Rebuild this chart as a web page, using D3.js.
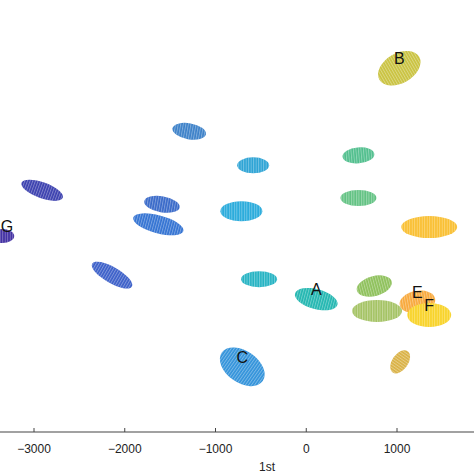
<!DOCTYPE html>
<html><head><meta charset="utf-8">
<script src="https://cdn.jsdelivr.net/npm/d3@7"></script>
<style>body{margin:0;background:#fff}text{font-family:"Liberation Sans",Arial,sans-serif}</style>
</head><body><svg id="c" width="474" height="474"></svg>
<script>
// groups: centre, radii (data units), tilt (deg), colour, label
var labels = ["B","","","","","","","","","","G","","","A","","","E","F","C",""];
var xs = [1025,-1290,-585,575,575,-2910,-1590,-1630,-715,1355,-3350,-2140,-520,110,750,780,1225,1355,-705,1035];
var ys = [2510,1815,1440,1550,1080,1165,1010,790,935,760,660,230,185,-35,110,-165,-65,-210,-780,-725];
var rxs = [253,187,176,176,198,242,198,286,231,308,132,253,198,242,198,275,198,242,275,143];
var rys = [165,88,88,88,88,88,88,99,110,121,77,88,88,110,110,121,121,132,176,88];
var tilts = [-30,10,0,-5,0,20,10,15,0,0,0,30,0,15,-15,0,-10,0,35,-55];
var colors = ["#c9c23e","#3b80c8","#2aa2d4","#4fbe8c","#62c283","#3a3fae","#3768c8","#3272d2","#27aadb",
  "#f9be2e","#3e2ba0","#3a5ec8","#22b2c2","#21b6b0","#8dc05a","#a3c262","#f8a83a","#f8d224","#3192da","#d9b144"];
var xTicks = [-3000,-2000,-1000,0,1000];

var svg = d3.select("#c");
var x = d3.scaleLinear().domain([-3000,1000]).range([34,397]);
var k = (x(1000)-x(0))/1000;
var y = d3.scaleLinear().domain([0,1000]).range([296,296-1000*k]);

svg.append("defs").append("pattern").attr("id","hatch").attr("patternUnits","userSpaceOnUse")
  .attr("width",2.5).attr("height",10)
  .append("rect").attr("width",1).attr("height",10).attr("fill","#fff").attr("opacity",0.35);

var g = svg.selectAll("g.e").data(d3.range(xs.length)).enter().append("g").attr("class","e")
  .attr("transform",function(i){return "translate("+x(xs[i])+","+y(ys[i])+") rotate("+tilts[i]+")";});
g.append("ellipse").attr("rx",function(i){return rxs[i]*k;}).attr("ry",function(i){return rys[i]*k;})
  .attr("fill",function(i){return colors[i];});
g.append("ellipse").attr("rx",function(i){return rxs[i]*k;}).attr("ry",function(i){return rys[i]*k;})
  .attr("fill","url(#hatch)");

svg.selectAll("text.l").data(d3.range(xs.length).filter(function(i){return labels[i];})).enter()
  .append("text").attr("class","l").attr("x",function(i){return Math.max(x(xs[i]),7);}).attr("y",function(i){return y(ys[i])-4;})
  .attr("text-anchor","middle").attr("font-size",16).attr("fill","#111").text(function(i){return labels[i];});

var ax = svg.append("g").attr("transform","translate(0,432)");
ax.append("line").attr("x1",0).attr("x2",474).attr("stroke","#444").attr("stroke-width",1.2);
ax.selectAll("line.t").data(xTicks).enter().append("line").attr("class","t")
  .attr("x1",x).attr("x2",x).attr("y1",0).attr("y2",-4).attr("stroke","#444");
ax.selectAll("text").data(xTicks).enter().append("text").attr("x",x).attr("y",21)
  .attr("text-anchor","middle").attr("font-size",12).attr("fill","#222")
  .text(function(d){return d<0?"\u2212"+(-d):d;});
svg.append("text").attr("x",267).attr("y",471).attr("text-anchor","middle").attr("font-size",12).attr("fill","#222").text("1st");
</script></body></html>
